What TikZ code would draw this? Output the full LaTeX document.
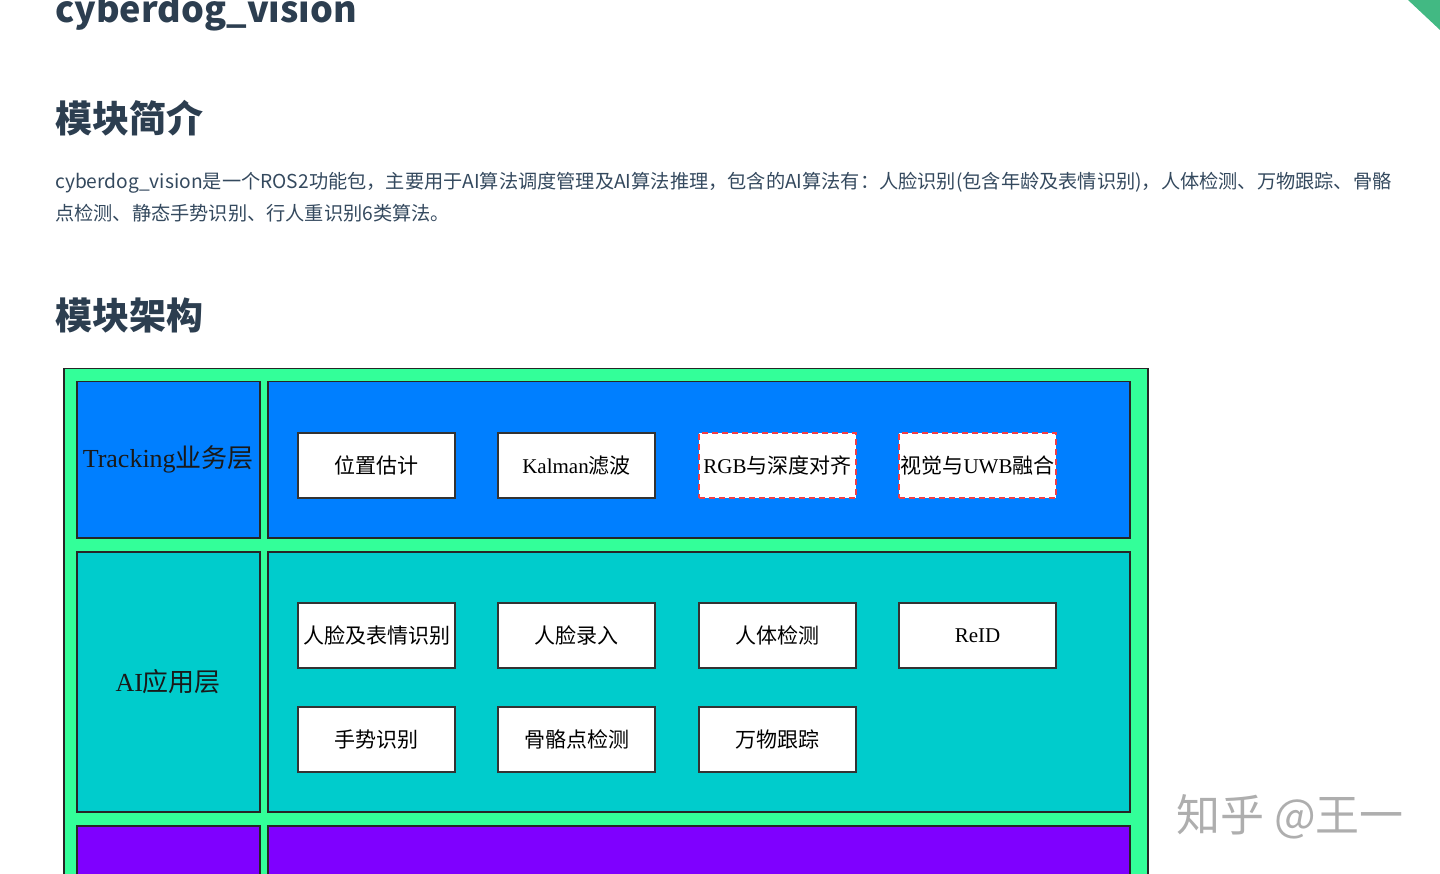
\documentclass[tikz,border=0pt]{standalone}
\usepackage{fontspec}
\setmainfont{Liberation Serif}
\newfontfamily\cjk{Noto Sans CJK SC}
\usepackage{xcolor}
\usetikzlibrary{positioning}
\definecolor{headtext}{HTML}{2C3E50}
\definecolor{bodytext}{HTML}{34495E}
\definecolor{framegreen}{HTML}{33FF99}
\definecolor{trackblue}{HTML}{007FFF}
\definecolor{aiteal}{HTML}{00CCCC}
\definecolor{basepurple}{HTML}{7F00FF}
\definecolor{dashred}{HTML}{F03C46}
\definecolor{cornergreen}{HTML}{42B983}
\definecolor{markgray}{HTML}{AEAEAE}

\begin{document}
\begin{tikzpicture}[x=1pt,y=-1pt,heading/.style={anchor=west,inner sep=0pt,text=headtext,font=\cjk\bfseries\fontsize{37}{44}\selectfont},intro/.style={anchor=base west,inner sep=0pt,text=bodytext,font=\cjk\fontsize{19.2}{24}\selectfont},layer/.style={draw=black!85,line width=1.5pt,anchor=north west,inner sep=0pt,text=black!90,font=\fontsize{26}{30}\selectfont},module/.style={draw=black!80,line width=1.5pt,fill=white,minimum width=157pt,minimum height=65pt,inner sep=0pt,font=\fontsize{21}{24}\selectfont},pending/.style={module,draw=dashred,dash pattern=on 6pt off 4pt,line width=2.5pt}]
\useasboundingbox (0,0) rectangle (1440,874);
\clip (0,0) rectangle (1440,874);
\node[anchor=base west,inner sep=0pt,text=headtext,font=\cjk\bfseries\fontsize{36}{44}\selectfont] (title) at (55,23) {cyberdog\_vision};
\fill[cornergreen] (1408,0) -- (1440,0) -- (1440,30) -- cycle;
\node[heading] (hIntro) at (55,118) {模块简介};
\node[intro] (intro1) at (55,189) {cyberdog\_vision是一个ROS2功能包，主要用于AI算法调度管理及AI算法推理，包含的AI算法有：人脸识别(包含年龄及表情识别)，人体检测、万物跟踪、骨骼};
\node[intro] (intro2) at (55,221) {点检测、静态手势识别、行人重识别6类算法。};
\node[heading] (hArch) at (55,315) {模块架构};
% layers
\node[layer,fill=framegreen,minimum width=1084pt,minimum height=560pt] (frame) at (63,368) {};
\node[layer,fill=trackblue,minimum width=183pt,minimum height=156pt] (trackL) at (76,381) {Tracking{\cjk 业务层}};
\node[layer,fill=trackblue,minimum width=862pt,minimum height=156pt] (trackR) at (267,381) {};
\node[layer,fill=aiteal,minimum width=183pt,minimum height=260pt] (aiL) at (76,551) {AI{\cjk 应用层}};
\node[layer,fill=aiteal,minimum width=862pt,minimum height=260pt] (aiR) at (267,551) {};
\node[layer,fill=basepurple,minimum width=183pt,minimum height=120pt] (baseL) at (76,825) {};
\node[layer,fill=basepurple,minimum width=862pt,minimum height=120pt] (baseR) at (267,825) {};
% modules
\node[module] (pos) at (376.5,465.5) {\cjk 位置估计};
\node[module] (kalman) at (576.5,465.5) {Kalman{\cjk 滤波}};
\node[pending] (align) at (777.5,465.5) {RGB{\cjk 与深度对齐}};
\node[pending] (fuse) at (977.5,465.5) {{\cjk 视觉与}UWB{\cjk 融合}};
\node[module] (face) at (376.5,635.5) {\cjk 人脸及表情识别};
\node[module] (enroll) at (576.5,635.5) {\cjk 人脸录入};
\node[module] (body) at (777.5,635.5) {\cjk 人体检测};
\node[module] (reid) at (977.5,635.5) {ReID};
\node[module] (gesture) at (376.5,739.5) {\cjk 手势识别};
\node[module] (skeleton) at (576.5,739.5) {\cjk 骨骼点检测};
\node[module] (track) at (777.5,739.5) {\cjk 万物跟踪};
\node[text=markgray,font=\cjk\fontsize{44}{50}\selectfont,inner sep=0pt] (mark) at (1290,817) {知乎 @王一};
\end{tikzpicture}
\end{document}
